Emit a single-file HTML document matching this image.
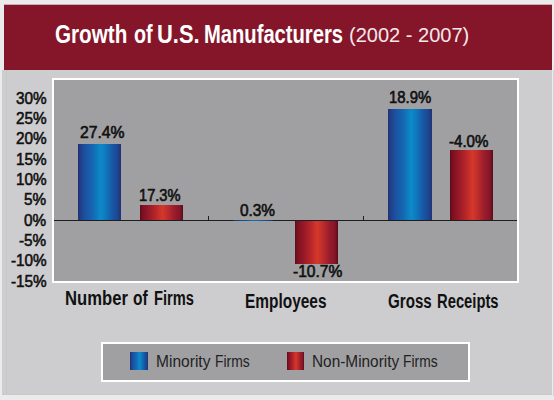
<!DOCTYPE html>
<html><head><meta charset="utf-8">
<style>
html,body{margin:0;padding:0;}
body{width:554px;height:400px;position:relative;overflow:hidden;background:#ebebec;font-family:"Liberation Sans",sans-serif;}
.a{position:absolute;}
.x{position:absolute;white-space:nowrap;line-height:1;transform-origin:0 0;}
.bb{position:absolute;background:linear-gradient(to right,#1f3272 0%,#213f88 6%,#1c4f9e 15%,#1568b2 35%,#0c8aca 52%,#0f7cc0 62%,#1658a6 80%,#1f4590 92%,#1f3272 100%);}
.rb{position:absolute;background:linear-gradient(to right,#5a0c18 0%,#7d1020 6%,#8c1526 15%,#b4242a 35%,#d5382a 52%,#c22f2c 62%,#9a1c2c 80%,#861629 92%,#5a0c18 100%);}
</style></head><body>
<div class="a" style="left:4px;top:4px;width:548px;height:1px;background:rgba(133,22,42,0.3);"></div>
<div class="a" style="left:4px;top:5px;width:548px;height:65px;background:#85162a;"></div>
<div class="a" style="left:2px;top:70px;width:549.8px;height:325px;background:#cdcdcf;"></div>
<div class="a" style="left:5.5px;top:70px;width:1px;height:325px;background:#c7c7c7;"></div>
<div class="a" style="left:2px;top:394px;width:549.8px;height:1px;background:#c8c8c8;"></div>
<div class="a" style="left:553.2px;top:70px;width:1px;height:326px;background:#d4d4d4;"></div>
<div class="a" style="left:52px;top:78px;width:467px;height:205px;box-sizing:border-box;border:2px solid #fff;background:#a0a0a2;"></div>
<div class="bb" style="left:77.8px;top:144px;width:43.2px;height:76.5px;"></div>
<div class="rb" style="left:140.1px;top:204.5px;width:43.1px;height:16px;"></div>
<div class="rb" style="left:294.9px;top:220.5px;width:43.3px;height:43.2px;"></div>
<div class="bb" style="left:388.1px;top:108.5px;width:43.6px;height:112px;"></div>
<div class="rb" style="left:449.5px;top:150px;width:43.8px;height:70.5px;"></div>
<div class="a" style="left:54px;top:219.8px;width:463px;height:1.4px;background:#1e1e1e;"></div>
<div class="a" style="left:207.6px;top:216px;width:1.2px;height:4px;background:#1e1e1e;"></div>
<div class="a" style="left:362.6px;top:216px;width:1.2px;height:4px;background:#1e1e1e;"></div>
<div class="bb" style="left:232.5px;top:219.6px;width:40px;height:1.6px;opacity:.8"></div>
<div class="a" style="left:101px;top:341.5px;width:369px;height:40px;box-sizing:border-box;border:2.5px solid #fff;background:#a0a0a2;"></div>
<div class="bb" style="left:130px;top:352px;width:18px;height:17.5px;"></div>
<div class="rb" style="left:286.5px;top:352px;width:17.5px;height:17.5px;"></div>
<div class="x" style="left:79.51px;top:124.58px;font-size:15.6px;font-weight:normal;color:#111;transform:scaleX(1.009);-webkit-text-stroke:0.6px #111;">27.4%</div>
<div class="x" style="left:138.5px;top:188.18px;font-size:15.6px;font-weight:normal;color:#111;transform:scaleX(0.939);-webkit-text-stroke:0.6px #111;">17.3%</div>
<div class="x" style="left:239.99px;top:203.08px;font-size:15.6px;font-weight:normal;color:#111;transform:scaleX(0.986);-webkit-text-stroke:0.6px #111;">0.3%</div>
<div class="x" style="left:293.1px;top:264.38px;font-size:15.6px;font-weight:normal;color:#111;transform:scaleX(0.999);-webkit-text-stroke:0.6px #111;">-10.7%</div>
<div class="x" style="left:389.18px;top:90.08px;font-size:15.6px;font-weight:normal;color:#111;transform:scaleX(0.955);-webkit-text-stroke:0.6px #111;">18.9%</div>
<div class="x" style="left:449.32px;top:133.88px;font-size:15.6px;font-weight:normal;color:#111;transform:scaleX(0.968);-webkit-text-stroke:0.6px #111;">-4.0%</div>
<div class="x" style="left:64.72px;top:289.39px;font-size:19.4px;font-weight:bold;color:#111;transform:scaleX(0.858);">Number</div>
<div class="x" style="left:132.88px;top:289.39px;font-size:19.4px;font-weight:bold;color:#111;transform:scaleX(0.803);">of</div>
<div class="x" style="left:153.85px;top:289.39px;font-size:19.4px;font-weight:bold;color:#111;transform:scaleX(0.757);">Firms</div>
<div class="x" style="left:244.6px;top:291.89px;font-size:19.4px;font-weight:bold;color:#111;transform:scaleX(0.796);">Employees</div>
<div class="x" style="left:387.7px;top:291.89px;font-size:19.4px;font-weight:bold;color:#111;transform:scaleX(0.78);">Gross</div>
<div class="x" style="left:436.94px;top:291.89px;font-size:19.4px;font-weight:bold;color:#111;transform:scaleX(0.762);">Receipts</div>
<div class="x" style="left:54.97px;top:22.4px;font-size:25.8px;font-weight:bold;color:#fff;transform:scaleX(0.801);">Growth</div>
<div class="x" style="left:134.01px;top:22.4px;font-size:25.8px;font-weight:bold;color:#fff;transform:scaleX(0.767);">of</div>
<div class="x" style="left:156.88px;top:22.4px;font-size:25.8px;font-weight:bold;color:#fff;transform:scaleX(0.85);">U.S.</div>
<div class="x" style="left:204.29px;top:22.4px;font-size:25.8px;font-weight:bold;color:#fff;transform:scaleX(0.782);">Manufacturers</div>
<div class="x" style="left:349.2px;top:25.87px;font-size:19.57px;font-weight:normal;color:#f6e8ea;transform:scaleX(1.024);">(2002 - 2007)</div>
<div class="x" style="left:155.96px;top:353.58px;font-size:15.6px;font-weight:normal;color:#222;transform:scaleX(0.997);">Minority</div>
<div class="x" style="left:214.59px;top:353.58px;font-size:15.6px;font-weight:normal;color:#222;transform:scaleX(0.892);">Firms</div>
<div class="x" style="left:312.37px;top:353.58px;font-size:15.6px;font-weight:normal;color:#222;transform:scaleX(0.986);">Non-Minority</div>
<div class="x" style="left:403.29px;top:353.58px;font-size:15.6px;font-weight:normal;color:#222;transform:scaleX(0.889);">Firms</div>
<div class="x" style="left:15.94px;top:89.52px;font-size:17.0px;font-weight:normal;color:#111;transform:scaleX(0.9);-webkit-text-stroke:0.6px #111;">30%</div>
<div class="x" style="left:15.94px;top:109.86px;font-size:17.0px;font-weight:normal;color:#111;transform:scaleX(0.9);-webkit-text-stroke:0.6px #111;">25%</div>
<div class="x" style="left:15.94px;top:130.22px;font-size:17.0px;font-weight:normal;color:#111;transform:scaleX(0.9);-webkit-text-stroke:0.6px #111;">20%</div>
<div class="x" style="left:15.94px;top:150.57px;font-size:17.0px;font-weight:normal;color:#111;transform:scaleX(0.9);-webkit-text-stroke:0.6px #111;">15%</div>
<div class="x" style="left:15.94px;top:170.92px;font-size:17.0px;font-weight:normal;color:#111;transform:scaleX(0.9);-webkit-text-stroke:0.6px #111;">10%</div>
<div class="x" style="left:24.43px;top:191.27px;font-size:17.0px;font-weight:normal;color:#111;transform:scaleX(0.9);-webkit-text-stroke:0.6px #111;">5%</div>
<div class="x" style="left:24.43px;top:211.62px;font-size:17.0px;font-weight:normal;color:#111;transform:scaleX(0.9);-webkit-text-stroke:0.6px #111;">0%</div>
<div class="x" style="left:19.38px;top:231.97px;font-size:17.0px;font-weight:normal;color:#111;transform:scaleX(0.9);-webkit-text-stroke:0.6px #111;">-5%</div>
<div class="x" style="left:10.81px;top:252.32px;font-size:17.0px;font-weight:normal;color:#111;transform:scaleX(0.9);-webkit-text-stroke:0.6px #111;">-10%</div>
<div class="x" style="left:10.81px;top:272.66px;font-size:17.0px;font-weight:normal;color:#111;transform:scaleX(0.9);-webkit-text-stroke:0.6px #111;">-15%</div>
</body></html>
